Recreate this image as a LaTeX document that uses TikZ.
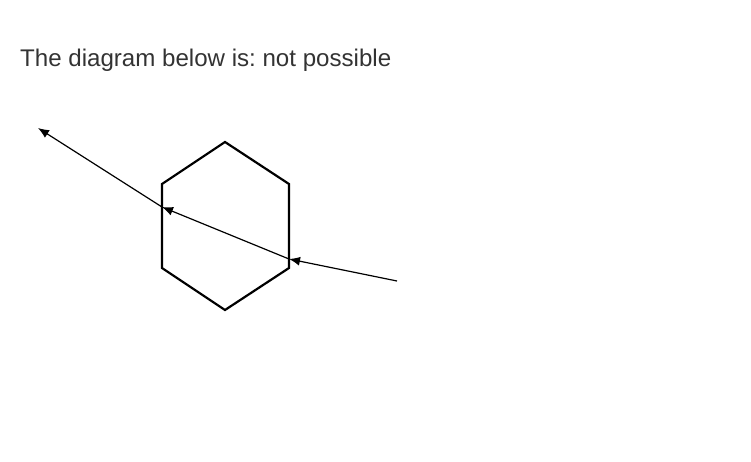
\documentclass[tikz,border=0pt]{standalone}
\usepackage{fontspec}
\setmainfont{Liberation Sans}
\usepackage{xcolor}
\usetikzlibrary{arrows.meta, positioning}
\definecolor{textgrey}{rgb}{0.2, 0.2, 0.2}
\frenchspacing

\begin{document}
\begin{tikzpicture}[x=1pt, y=-1pt, ray/.style={line width=1.2pt, -{Latex[length=11pt, width=9pt]}}]
\useasboundingbox (0,0) rectangle (751,462);

\node[anchor=base west, inner sep=0pt, text=textgrey, font=\fontsize{24.1}{28}\selectfont] (title) at (20,67) {The diagram below is: not possible};

% hexagon corners
\coordinate (h1) at (225,142);
\coordinate (h2) at (289,184);
\coordinate (h3) at (289,268);
\coordinate (h4) at (225,310);
\coordinate (h5) at (162,268);
\coordinate (h6) at (162,184);
\draw[line width=2.2pt, line join=miter] (h1) -- (h2) -- (h3) -- (h4) -- (h5) -- (h6) -- cycle;

% the ray
\coordinate (src) at (397,281);
\coordinate (inR) at (289,259);
\coordinate (outL) at (162,207);
\coordinate (tip) at (38,128);
\draw[ray] (src) -- (inR);
\draw[ray] (inR) -- (outL);
\draw[ray] (outL) -- (tip);

\end{tikzpicture}
\end{document}
